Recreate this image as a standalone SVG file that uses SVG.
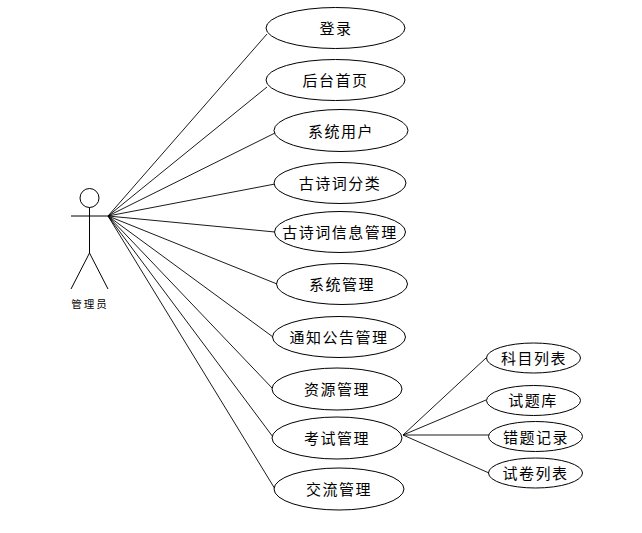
<svg xmlns="http://www.w3.org/2000/svg" width="642" height="533" viewBox="0 0 642 533">
<style>
.bg{fill:#fff}
ellipse{fill:#fff;stroke:#000;stroke-width:1}
line,circle{stroke:#000;stroke-width:1;fill:#fff}
#connectors line{stroke-width:.9}
text{font-family:"Noto Sans CJK SC","Liberation Sans",sans-serif;font-size:15px;fill:#000;text-anchor:middle;dominant-baseline:central;letter-spacing:1.5px}
.s{font-size:10.5px;letter-spacing:2px}
</style>
<rect class="bg" width="642" height="533"/>
<g id="connectors">
<line x1="108" y1="216" x2="267" y2="34"/>
<line x1="108" y1="216" x2="267" y2="87"/>
<line x1="108" y1="216" x2="275" y2="133"/>
<line x1="108" y1="216" x2="275" y2="184"/>
<line x1="108" y1="216" x2="275" y2="232"/>
<line x1="108" y1="216" x2="277" y2="284"/>
<line x1="108" y1="216" x2="273" y2="337"/>
<line x1="108" y1="216" x2="273" y2="389"/>
<line x1="108" y1="216" x2="273" y2="437"/>
<line x1="108" y1="216" x2="275" y2="489"/>
<line x1="403" y1="435" x2="486" y2="358"/>
<line x1="403" y1="435" x2="486" y2="400"/>
<line x1="403" y1="435" x2="489" y2="435"/>
<line x1="403" y1="435" x2="489" y2="473"/>
</g>
<g id="actor">
<circle cx="89.500" cy="198" r="9.500"/>
<line x1="89.500" y1="207.500" x2="89.500" y2="253"/>
<line x1="71" y1="216" x2="108" y2="216"/>
<line x1="89.500" y1="253" x2="71" y2="289"/>
<line x1="89.500" y1="253" x2="108" y2="289"/>
<text class="s" x="90" y="303.500">管理员</text>
</g>
<g id="n1"><ellipse cx="335.500" cy="28" rx="69.500" ry="20.500"/><text x="336" y="27">登录</text></g>
<g id="n2"><ellipse cx="335.500" cy="80" rx="69.500" ry="20.500"/><text x="335.500" y="79">后台首页</text></g>
<g id="n3"><ellipse cx="341" cy="130.500" rx="67" ry="21"/><text x="341" y="130">系统用户</text></g>
<g id="n4"><ellipse cx="340" cy="183" rx="66" ry="20.500"/><text x="340" y="182">古诗词分类</text></g>
<g id="n5"><ellipse cx="340" cy="232" rx="65.500" ry="20.500"/><text x="340" y="231">古诗词信息管理</text></g>
<g id="n6"><ellipse cx="342" cy="284" rx="65.500" ry="20.500"/><text x="342" y="283">系统管理</text></g>
<g id="n7"><ellipse cx="339" cy="337" rx="66.500" ry="20.500"/><text x="339" y="336">通知公告管理</text></g>
<g id="n8"><ellipse cx="337" cy="389" rx="65" ry="21"/><text x="337" y="388">资源管理</text></g>
<g id="n9"><ellipse cx="337" cy="438" rx="65" ry="21"/><text x="337" y="437">考试管理</text></g>
<g id="n10"><ellipse cx="339" cy="489" rx="65" ry="21"/><text x="339" y="488">交流管理</text></g>
<g id="n11"><ellipse cx="533.500" cy="358" rx="47" ry="15"/><text x="534" y="357">科目列表</text></g>
<g id="n12"><ellipse cx="533.500" cy="400.500" rx="47" ry="15"/><text x="533" y="399.500">试题库</text></g>
<g id="n13"><ellipse cx="535.500" cy="436.500" rx="47" ry="15"/><text x="536" y="436">错题记录</text></g>
<g id="n14"><ellipse cx="535.500" cy="473" rx="47" ry="15"/><text x="535.500" y="472">试卷列表</text></g>
</svg>
